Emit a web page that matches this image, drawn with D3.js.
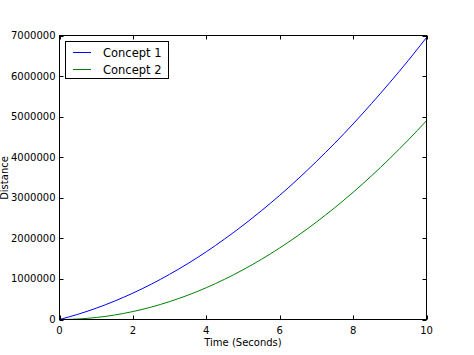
<!DOCTYPE html>
<html><head><meta charset="utf-8">
<script src="https://cdn.jsdelivr.net/npm/d3@7"></script>
<style>body{margin:0;background:#fff}svg{display:block}text{font-family:"DejaVu Sans",sans-serif}</style>
</head><body><svg id="c" width="474" height="355"></svg>
<script>
const times = [0,0.5,1,1.5,2,2.5,3,3.5,4,4.5,5,5.5,6,6.5,7,7.5,8,8.5,9,9.5,10];
const concept1 = [0,128000,279000,453000,650000,870000,1114000,1380000,1670000,1985000,2320000,2680000,3060000,3465000,3895000,4345000,4820000,5320000,5840000,6380000,6950000];
const concept2 = [0,12000,49000,110000,196000,306000,441000,600000,784000,992000,1225000,1482000,1764000,2070000,2401000,2756000,3136000,3540000,3969000,4422000,4900000];
const seriesNames = ["Concept 1","Concept 2"];
const seriesColors = ["#0000ff","#008000"];
const xTicks = [0,2,4,6,8,10];
const yTicks = [0,1000000,2000000,3000000,4000000,5000000,6000000,7000000];

const svg = d3.select("#c");
const L=59.5, R=426.5, T=35.5, B=319.5;
const x = d3.scaleLinear().domain([0,10]).range([L,R]);
const y = d3.scaleLinear().domain([0,7000000]).range([B,T]);

const line = d3.line().x((d,i)=>x(times[i])).y(d=>y(d)).curve(d3.curveMonotoneX);
[concept1,concept2].forEach((s,k)=>{
  svg.append("path").attr("d",line(s)).attr("fill","none").attr("stroke",seriesColors[k]).attr("stroke-width",1);
});

const tl=4;
const g = svg.append("g").attr("stroke","#000").attr("stroke-width",1);
xTicks.forEach(t=>{
  const xx=Math.round(x(t))+0.5;
  g.append("line").attr("x1",xx).attr("x2",xx).attr("y1",B).attr("y2",B-tl);
  g.append("line").attr("x1",xx).attr("x2",xx).attr("y1",T).attr("y2",T+tl);
  svg.append("text").attr("x",x(t)).attr("y",B+14).attr("text-anchor","middle").attr("font-size",10).text(t);
});
yTicks.forEach(t=>{
  const yy=Math.round(y(t))+0.5;
  g.append("line").attr("x1",L).attr("x2",L+tl).attr("y1",yy).attr("y2",yy);
  g.append("line").attr("x1",R).attr("x2",R-tl).attr("y1",yy).attr("y2",yy);
  svg.append("text").attr("x",L-4).attr("y",y(t)+3.5).attr("text-anchor","end").attr("font-size",10).text(t);
});
svg.append("rect").attr("x",L).attr("y",T).attr("width",R-L).attr("height",B-T).attr("fill","none").attr("stroke","#000").attr("stroke-width",1);

svg.append("text").attr("x",(L+R)/2).attr("y",346).attr("text-anchor","middle").attr("font-size",10).text("Time (Seconds)");
svg.append("text").attr("transform","translate(8,178) rotate(-90)").attr("text-anchor","middle").attr("font-size",10).text("Distance");

const lg = svg.append("g");
lg.append("rect").attr("x",65.5).attr("y",41.5).attr("width",103).attr("height",37).attr("fill","#fff").attr("stroke","#000").attr("stroke-width",1);
seriesNames.forEach((n,i)=>{
  const yy=52.5+i*17;
  lg.append("line").attr("x1",73).attr("x2",91).attr("y1",yy).attr("y2",yy).attr("stroke",seriesColors[i]).attr("stroke-width",1);
  lg.append("text").attr("x",103).attr("y",yy+4).attr("font-size",11.5).text(n);
});
</script></body></html>
